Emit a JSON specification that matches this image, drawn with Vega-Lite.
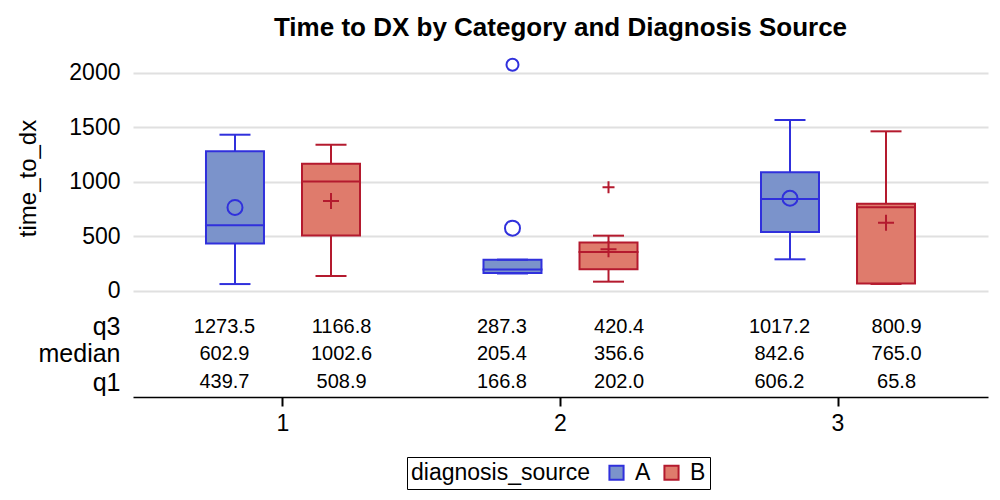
{
  "$schema": "https://vega.github.io/schema/vega-lite/v6.json",
  "autosize": "none",
  "width": 855,
  "height": 341,
  "padding": {"left": 133, "top": 56, "right": 12, "bottom": 103},
  "background": "white",
  "config": {"font": "Liberation Sans", "view": {"stroke": null}},
  "title": {"text": "Time to DX by Category and  Diagnosis Source", "fontSize": 26, "fontWeight": "bold", "color": "black", "anchor": "middle", "offset": 14},
  "datasets": {
    "boxes": [
      {"category": "1", "diagnosis_source": "A", "lower": 61, "q1": 434, "median": 601, "q3": 1279, "upper": 1431, "mean": 764, "tq3": 1273.5, "tmed": 602.9, "tq1": 439.7},
      {"category": "1", "diagnosis_source": "B", "lower": 135, "q1": 506, "median": 1001, "q3": 1164, "upper": 1339, "mean": 823, "tq3": 1166.8, "tmed": 1002.6, "tq1": 508.9},
      {"category": "2", "diagnosis_source": "A", "lower": 158, "q1": 163, "median": 195, "q3": 285, "upper": 285, "mean": 574, "tq3": 287.3, "tmed": 205.4, "tq1": 166.8},
      {"category": "2", "diagnosis_source": "B", "lower": 83, "q1": 198, "median": 356, "q3": 443, "upper": 505, "mean": 380, "tq3": 420.4, "tmed": 356.6, "tq1": 202.0},
      {"category": "3", "diagnosis_source": "A", "lower": 288, "q1": 538, "median": 842, "q3": 1086, "upper": 1566, "mean": 848, "tq3": 1017.2, "tmed": 842.6, "tq1": 606.2},
      {"category": "3", "diagnosis_source": "B", "lower": 62, "q1": 65, "median": 765, "q3": 798, "upper": 1462, "mean": 624, "tq3": 800.9, "tmed": 765.0, "tq1": 65.8}
    ],
    "outliers": [
      {"category": "2", "diagnosis_source": "A", "time_to_dx": 2073},
      {"category": "2", "diagnosis_source": "B", "time_to_dx": 949}
    ]
  },
  "encoding": {
    "x": {
      "field": "category", "type": "nominal",
      "scale": {"domain": ["1", "2", "3"], "paddingInner": 0, "paddingOuter": 0.0405},
      "axis": {"title": null, "labelAngle": 0, "labelFontSize": 23, "labelColor": "black", "labelPadding": 6, "domainColor": "black", "domainWidth": 1.5, "tickColor": "black", "tickWidth": 2, "tickSize": 9, "grid": false}
    }
  },
  "layer": [
    {
      "data": {"name": "boxes"},
      "mark": {"type": "bar", "strokeWidth": 2, "opacity": 1},
      "encoding": {
        "xOffset": {"field": "diagnosis_source", "type": "nominal", "scale": {"domain": ["A", "B"], "paddingInner": 0.396, "paddingOuter": 0.643}},
        "y": {
          "field": "q1", "type": "quantitative", "title": "time_to_dx",
          "scale": {"domain": [-975, 2153], "nice": false, "zero": false},
          "axis": {
            "title": "time_to_dx",
            "values": [0, 500, 1000, 1500, 2000, -330, -578, -838],
            "format": "d",
            "labelExpr": "datum.value == -330 ? 'q3' : datum.value == -578 ? 'median' : datum.value == -838 ? 'q1' : datum.label",
            "grid": true,
            "gridColor": "#e0e0e0",
            "gridWidth": 2,
            "gridOpacity": {"condition": {"test": "datum.value < 0", "value": 0}, "value": 1},
            "labelFontSize": {"condition": {"test": "datum.value < 0", "value": 25}, "value": 23},
            "domain": false, "ticks": false, "tickSize": 0,
            "labelPadding": 13, "labelColor": "black", "labelOverlap": false,
            "titleFontSize": 24, "titleFontWeight": "normal", "titleColor": "black",
            "titleX": -105, "titleY": 122, "titleBaseline": "middle"
          }
        },
        "y2": {"field": "q3"},
        "fill": {
          "field": "diagnosis_source", "type": "nominal",
          "scale": {"domain": ["A", "B"], "range": ["#7B93CB", "#DF7B6C"]},
          "legend": {"orient": "none", "legendX": 274, "legendY": 401, "direction": "horizontal", "titleOrient": "left", "titleFontSize": 23, "titleFontWeight": "normal", "titleColor": "black", "labelFontSize": 23, "labelColor": "black", "symbolType": "square", "symbolSize": 200, "symbolStrokeWidth": 2, "strokeColor": "black", "padding": 4, "titlePadding": 14, "labelOffset": 7, "columnPadding": 9}
        },
        "stroke": {"field": "diagnosis_source", "type": "nominal", "scale": {"domain": ["A", "B"], "range": ["#3030DC", "#B41A2E"]}}
      }
    },
    {
      "data": {"name": "boxes"},
      "mark": {"type": "rule", "strokeWidth": 2},
      "encoding": {
        "xOffset": {"field": "diagnosis_source", "type": "nominal"},
        "y": {"field": "lower", "type": "quantitative", "title": "time_to_dx"},
        "y2": {"field": "q1"},
        "stroke": {"field": "diagnosis_source", "type": "nominal"}
      }
    },
    {
      "data": {"name": "boxes"},
      "mark": {"type": "rule", "strokeWidth": 2},
      "encoding": {
        "xOffset": {"field": "diagnosis_source", "type": "nominal"},
        "y": {"field": "q3", "type": "quantitative", "title": "time_to_dx"},
        "y2": {"field": "upper"},
        "stroke": {"field": "diagnosis_source", "type": "nominal"}
      }
    },
    {
      "data": {"name": "boxes"},
      "mark": {"type": "tick", "size": 29, "thickness": 0.01, "filled": false, "strokeWidth": 2, "opacity": 1},
      "encoding": {
        "xOffset": {"field": "diagnosis_source", "type": "nominal"},
        "y": {"field": "lower", "type": "quantitative", "title": "time_to_dx"},
        "stroke": {"field": "diagnosis_source", "type": "nominal"}
      }
    },
    {
      "data": {"name": "boxes"},
      "mark": {"type": "tick", "size": 29, "thickness": 0.01, "filled": false, "strokeWidth": 2, "opacity": 1},
      "encoding": {
        "xOffset": {"field": "diagnosis_source", "type": "nominal"},
        "y": {"field": "upper", "type": "quantitative", "title": "time_to_dx"},
        "stroke": {"field": "diagnosis_source", "type": "nominal"}
      }
    },
    {
      "data": {"name": "boxes"},
      "mark": {"type": "tick", "size": 58, "thickness": 0.01, "filled": false, "strokeWidth": 2, "opacity": 1},
      "encoding": {
        "xOffset": {"field": "diagnosis_source", "type": "nominal"},
        "y": {"field": "median", "type": "quantitative", "title": "time_to_dx"},
        "stroke": {"field": "diagnosis_source", "type": "nominal"}
      }
    },
    {
      "data": {"name": "boxes"},
      "transform": [{"filter": "datum.diagnosis_source == 'A'"}],
      "mark": {"type": "point", "shape": "circle", "filled": false, "strokeWidth": 2, "size": 225, "opacity": 1},
      "encoding": {
        "xOffset": {"field": "diagnosis_source", "type": "nominal"},
        "y": {"field": "mean", "type": "quantitative", "title": "time_to_dx"},
        "stroke": {"field": "diagnosis_source", "type": "nominal"}
      }
    },
    {
      "data": {"name": "boxes"},
      "transform": [{"filter": "datum.diagnosis_source == 'B'"}],
      "mark": {"type": "point", "shape": "M-1,0L1,0M0,-1L0,1", "filled": false, "strokeWidth": 2, "size": 256, "opacity": 1},
      "encoding": {
        "xOffset": {"field": "diagnosis_source", "type": "nominal"},
        "y": {"field": "mean", "type": "quantitative", "title": "time_to_dx"},
        "stroke": {"field": "diagnosis_source", "type": "nominal"}
      }
    },
    {
      "data": {"name": "outliers"},
      "transform": [{"filter": "datum.diagnosis_source == 'A'"}],
      "mark": {"type": "point", "shape": "circle", "filled": false, "strokeWidth": 2, "size": 144, "opacity": 1},
      "encoding": {
        "xOffset": {"field": "diagnosis_source", "type": "nominal"},
        "y": {"field": "time_to_dx", "type": "quantitative", "title": "time_to_dx"},
        "stroke": {"field": "diagnosis_source", "type": "nominal"}
      }
    },
    {
      "data": {"name": "outliers"},
      "transform": [{"filter": "datum.diagnosis_source == 'B'"}],
      "mark": {"type": "point", "shape": "M-1,0L1,0M0,-1L0,1", "filled": false, "strokeWidth": 2, "size": 144, "opacity": 1},
      "encoding": {
        "xOffset": {"field": "diagnosis_source", "type": "nominal"},
        "y": {"field": "time_to_dx", "type": "quantitative", "title": "time_to_dx"},
        "stroke": {"field": "diagnosis_source", "type": "nominal"}
      }
    },
    {
      "data": {"name": "boxes"},
      "transform": [{"filter": "datum.diagnosis_source == 'A'"}],
      "layer": [
        {"mark": {"type": "text", "fontSize": 20, "color": "black"}, "encoding": {"x": {"field": "category", "type": "nominal", "bandPosition": 0.289}, "y": {"datum": -330, "type": "quantitative", "title": "time_to_dx"}, "text": {"field": "tq3", "type": "quantitative", "format": ".1f"}}},
        {"mark": {"type": "text", "fontSize": 20, "color": "black"}, "encoding": {"x": {"field": "category", "type": "nominal", "bandPosition": 0.289}, "y": {"datum": -578, "type": "quantitative", "title": "time_to_dx"}, "text": {"field": "tmed", "type": "quantitative", "format": ".1f"}}},
        {"mark": {"type": "text", "fontSize": 20, "color": "black"}, "encoding": {"x": {"field": "category", "type": "nominal", "bandPosition": 0.289}, "y": {"datum": -838, "type": "quantitative", "title": "time_to_dx"}, "text": {"field": "tq1", "type": "quantitative", "format": ".1f"}}}
      ]
    },
    {
      "data": {"name": "boxes"},
      "transform": [{"filter": "datum.diagnosis_source == 'B'"}],
      "layer": [
        {"mark": {"type": "text", "fontSize": 20, "color": "black"}, "encoding": {"x": {"field": "category", "type": "nominal", "bandPosition": 0.711}, "y": {"datum": -330, "type": "quantitative", "title": "time_to_dx"}, "text": {"field": "tq3", "type": "quantitative", "format": ".1f"}}},
        {"mark": {"type": "text", "fontSize": 20, "color": "black"}, "encoding": {"x": {"field": "category", "type": "nominal", "bandPosition": 0.711}, "y": {"datum": -578, "type": "quantitative", "title": "time_to_dx"}, "text": {"field": "tmed", "type": "quantitative", "format": ".1f"}}},
        {"mark": {"type": "text", "fontSize": 20, "color": "black"}, "encoding": {"x": {"field": "category", "type": "nominal", "bandPosition": 0.711}, "y": {"datum": -838, "type": "quantitative", "title": "time_to_dx"}, "text": {"field": "tq1", "type": "quantitative", "format": ".1f"}}}
      ]
    }
  ]
}
